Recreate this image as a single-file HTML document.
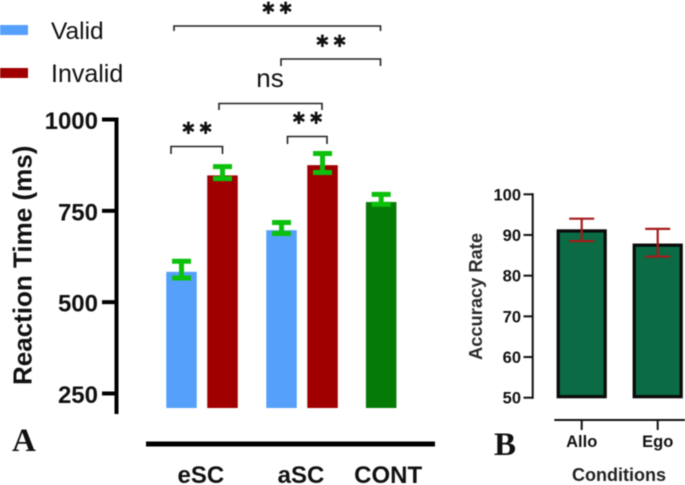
<!DOCTYPE html>
<html>
<head>
<meta charset="utf-8">
<style>
html,body{margin:0;padding:0;background:#fff;width:685px;height:485px;overflow:hidden}
svg{display:block;filter:blur(0.55px)}
text{font-family:"Liberation Sans",sans-serif;fill:#111}
.b{font-weight:bold}
.star{font-family:"DejaVu Sans",sans-serif;font-size:17px;text-anchor:middle;fill:#111}
.serif{font-family:"Liberation Serif",serif;font-weight:bold;font-size:33px}
</style>
</head>
<body>
<svg id="chart" xmlns="http://www.w3.org/2000/svg" width="685" height="485" viewBox="0 0 685 485">
  <rect x="0" y="25" width="28" height="10" fill="#55a0fb"/>
  <text x="51" y="39" font-size="24.5">Valid</text>
  <rect x="0" y="68" width="28" height="10" fill="#a00000"/>
  <text x="51" y="82" font-size="25">Invalid</text>

  <text class="b" font-size="26" transform="translate(31.5,385) rotate(-90)">Reaction Time (ms)</text>
  <text font-size="18.3" font-weight="bold" transform="translate(482,360) rotate(-90)" style="fill:#2a2a2a">Accuracy Rate</text>

  <text class="serif" x="12" y="451">A</text>
  <text class="serif" x="494" y="455">B</text>

  <text class="b" font-size="18" x="619" y="481" text-anchor="middle" style="fill:#222">Conditions</text>

  <g id="panelA"></g>
  <g id="panelB"></g>

  <g fill="none" stroke="#222" stroke-width="1.6">
    <path d="M174 31V26H380.5V31"/>
    <path d="M281 66V59H380.5V66"/>
    <path d="M219 110V103.5H322V110"/>
    <path d="M287.5 144V136.5H327V144"/>
    <path d="M171 154V146.5H222.5V154"/>
  </g>
  <text class="star" x="278.5" y="14" letter-spacing="3">✱✱</text>
  <text class="star" x="332.5" y="47" letter-spacing="3">✱✱</text>
  <text x="270" y="87" font-size="26" text-anchor="middle">ns</text>
  <text class="star" x="309" y="124" letter-spacing="3">✱✱</text>
  <text class="star" x="198.5" y="134" letter-spacing="3">✱✱</text>
</svg>
<script>
// Panel A data
var rtBarNames = ['esc-valid', 'esc-invalid', 'asc-valid', 'asc-invalid', 'cont'];
var rtValues = [583, 847, 697, 875, 774];
var rtUpper = [612, 871, 718, 907, 795];
var rtLower = [566, 838, 688, 855, 768];
var rtSlots = [0, 1, 2.44, 3.44, 4.87];
var rtColors = ['#55a0fb', '#a00000', '#55a0fb', '#a00000', '#067a06'];
var rtTicks = [250, 500, 750, 1000];
var rtGroups = ['eSC', 'aSC', 'CONT'];
var rtGroupSlots = [0.4, 2.84, 4.87];

// Panel B data
var accCategories = ['Allo', 'Ego'];
var accValues = [91, 87.5];
var accUpper = [94, 91.5];
var accLower = [88.5, 84.7];
var accTicks = [50, 60, 70, 80, 90, 100];

var NS = 'http://www.w3.org/2000/svg';
function mk(parent, tag, attrs, txt) {
  var el = document.createElementNS(NS, tag);
  for (var k in attrs) el.setAttribute(k, attrs[k]);
  if (txt !== undefined) el.textContent = txt;
  parent.appendChild(el);
  return el;
}

// Axis functions
function yA(v) { return 119.5 + (1000 - v) * 0.3653; }
function xA(slot) { return 181.5 + slot * 41; }
function yB(v) { return 397.7 - (v - 50) * 4.068; }
function xB(i) { return 581.7 + i * 76; }

var A = document.getElementById('panelA');
var B = document.getElementById('panelB');
var el;

// Panel A axis
el = mk(A, 'line', {x1: 116.5, x2: 116.5, y1: yA(1000) - 2, y2: 414, stroke: '#000', 'stroke-width': 4});


rtTicks.forEach(function (t) {
  var tick = mk(A, 'line', {x1: 102, x2: 116, y1: yA(t), y2: yA(t), stroke: '#000', 'stroke-width': 4});
  
  
  var lab = mk(A, 'text', {x: 98, y: yA(t) + 9.5, 'font-size': 24, 'font-weight': 'bold', 'text-anchor': 'end'}, String(t));
  
  
});
el = mk(A, 'rect', {x: 146, y: 441.5, width: 289, height: 5, fill: '#000'});


rtGroups.forEach(function (g, i) {
  var lab = mk(A, 'text', {x: xA(rtGroupSlots[i]) + (i === 2 ? 7 : 3), y: 483, 'font-size': 24, 'font-weight': 'bold', 'text-anchor': 'middle'}, g);
  
  
});

// Panel A bars
rtValues.forEach(function (v, i) {
  var cx = xA(rtSlots[i]);
  var top = yA(v);
  var bar = mk(A, 'rect', {x: cx - 15.25, y: top, width: 30.5, height: 408 - top, fill: rtColors[i]});
  
  
  var u = yA(rtUpper[i]);
  var l = yA(rtLower[i]);
  var err = mk(A, 'path', {d: 'M' + (cx - 9.5) + ' ' + u + 'H' + (cx + 9.5) + 'M' + cx + ' ' + u + 'V' + l + 'M' + (cx - 9.5) + ' ' + l + 'H' + (cx + 9.5), stroke: '#0cc00c', 'stroke-width': 5, fill: 'none'});
  
  
});

// Panel B axes
el = mk(B, 'line', {x1: 532.7, x2: 532.7, y1: yB(100) - 1, y2: yB(50) + 1, stroke: '#111', 'stroke-width': 2});


accTicks.forEach(function (t) {
  var tick = mk(B, 'line', {x1: 523.5, x2: 533, y1: yB(t), y2: yB(t), stroke: '#111', 'stroke-width': 2});
  
  
  var lab = mk(B, 'text', {x: 521, y: yB(t) + 6, 'font-size': 16.5, 'font-weight': 'bold', 'text-anchor': 'end'}, String(t));
  
  
});
el = mk(B, 'line', {x1: 554.3, x2: 685, y1: 420, y2: 420, stroke: '#111', 'stroke-width': 2});



// Panel B bars
accCategories.forEach(function (c, i) {
  var cx = xB(i);
  var top = yB(accValues[i]);
  var bar = mk(B, 'rect', {x: cx - 23.5, y: top, width: 47, height: yB(50) - top - 1, fill: '#0a6b45', stroke: '#0a0a0a', 'stroke-width': 3.2});
  
  
  var u = yB(accUpper[i]);
  var l = yB(accLower[i]);
  var err = mk(B, 'path', {d: 'M' + (cx - 12.5) + ' ' + u + 'H' + (cx + 12.5) + 'M' + cx + ' ' + u + 'V' + l + 'M' + (cx - 12.5) + ' ' + l + 'H' + (cx + 12.5), stroke: '#a81a1a', 'stroke-width': 2.2, fill: 'none'});
  
  
  var tick = mk(B, 'line', {x1: cx, x2: cx, y1: 420, y2: 430, stroke: '#111', 'stroke-width': 2});
  
  
  var lab = mk(B, 'text', {x: cx, y: 447, 'font-size': 16.5, 'font-weight': 'bold', 'text-anchor': 'middle'}, c);
  
  
});
</script>
</body>
</html>
